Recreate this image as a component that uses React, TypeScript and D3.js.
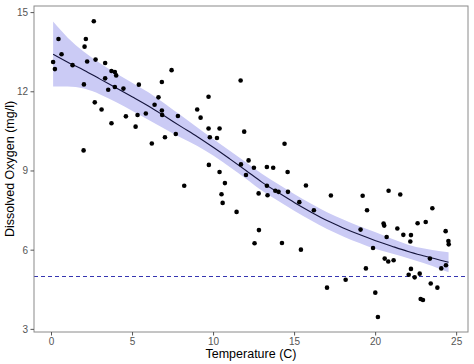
import React from "react"
import { scaleLinear, line, area, curveMonotoneX } from "d3"

// observations: temperature (C) and dissolved oxygen (mg/l)
const temperature = [
  0.1, 0.21, 0.43, 0.62, 1.3, 1.98, 2.0, 2.04, 2.12, 2.2, 2.61, 2.67, 2.72, 3.09, 3.31, 3.31,
  3.5, 3.7, 3.7, 3.91, 3.91, 3.99, 4.44, 4.59, 5.19, 5.31, 5.39, 5.82, 6.19, 6.36, 6.6, 6.81,
  6.81, 6.83, 7.0, 7.41, 7.67, 7.8, 8.19, 8.99, 9.2, 9.69, 9.69, 9.71, 9.77, 10.21, 10.37,
  10.37, 10.49, 10.56, 10.7, 11.42, 11.67, 11.69, 11.89, 12.0, 12.16, 12.49, 12.53, 12.78,
  12.8, 13.29, 13.29, 13.33, 13.68, 13.81, 14.01, 14.22, 14.38, 14.57, 14.59, 15.29, 15.39,
  15.7, 16.19, 17.0, 17.24, 18.15, 19.07, 19.2, 19.4, 19.47, 19.84, 19.98, 20.14, 20.49,
  20.53, 20.56, 20.68, 20.78, 20.8, 21.11, 21.34, 21.52, 21.71, 22.04, 22.14, 22.18, 22.18,
  22.41, 22.59, 22.72, 22.78, 22.92, 23.09, 23.35, 23.4, 23.5, 23.81, 24.05, 24.32, 24.34,
  24.49, 24.51,
]
const oxygen = [
  13.13, 12.86, 14.0, 13.42, 13.01, 9.78, 12.28, 13.71, 14.0, 13.15, 14.67, 11.6, 13.22,
  11.33, 13.09, 12.51, 12.08, 12.79, 10.81, 12.75, 12.18, 12.62, 12.12, 11.07, 10.68, 11.12,
  12.27, 11.18, 10.04, 11.51, 11.79, 12.37, 11.29, 11.12, 10.28, 12.82, 10.4, 11.08, 8.44,
  11.33, 11.02, 11.81, 10.61, 9.23, 10.28, 10.25, 10.61, 8.96, 8.12, 7.79, 8.54, 7.45, 12.43,
  9.25, 10.49, 8.85, 9.4, 9.12, 6.26, 8.15, 6.76, 9.15, 8.44, 8.08, 9.12, 8.25, 8.21, 6.27,
  10.03, 8.96, 8.21, 7.82, 6.02, 8.45, 7.51, 4.58, 8.07, 4.88, 6.78, 8.06, 5.31, 7.51, 6.08,
  4.39, 3.47, 7.01, 6.93, 5.68, 6.5, 5.57, 8.25, 5.62, 6.82, 8.11, 6.58, 5.07, 6.33, 6.57,
  5.29, 4.97, 7.02, 5.11, 4.15, 4.11, 7.07, 5.68, 4.74, 7.59, 4.58, 5.31, 6.72, 5.43, 6.35,
  6.22,
]

// smoothed fit with confidence band
const fitT = [0.1, 1, 2, 3, 4, 5, 6, 7, 8, 9, 10, 11, 12, 13, 14, 15, 16, 17, 18, 19, 20, 21, 22, 23, 24, 24.5]
const fitDO = [
  13.42, 13.12, 12.82, 12.48, 12.14, 11.8, 11.45, 11.07, 10.68, 10.3, 9.89, 9.46, 9.02, 8.57,
  8.18, 7.8, 7.45, 7.12, 6.84, 6.59, 6.36, 6.15, 5.95, 5.78, 5.62, 5.54,
]
const fitLow = [
  12.2, 12.2, 12.12, 11.9, 11.6, 11.27, 10.93, 10.59, 10.26, 9.95, 9.58, 9.15, 8.71, 8.25,
  7.86, 7.48, 7.13, 6.8, 6.52, 6.27, 6.04, 5.87, 5.69, 5.5, 5.28, 5.16,
]
const fitHigh = [
  14.66, 14.05, 13.52, 13.08, 12.69, 12.33, 11.97, 11.55, 11.1, 10.65, 10.2, 9.77, 9.33, 8.89,
  8.5, 8.12, 7.77, 7.44, 7.16, 6.91, 6.68, 6.43, 6.21, 6.06, 5.96, 5.92,
]

const xTicks = [0, 5, 10, 15, 20, 25]
const yTicks = [3, 6, 9, 12, 15]
const threshold = 5

const App = () => {
  const width = 474
  const height = 364
  const margin = { top: 6, right: 6, bottom: 32, left: 34 }
  const innerWidth = width - margin.left - margin.right
  const innerHeight = height - margin.top - margin.bottom

  const xScale = scaleLinear().domain([-1.08, 25.7]).range([0, innerWidth])
  const yScale = scaleLinear().domain([2.9, 15.25]).range([innerHeight, 0])

  const fitLine = line<number>()
    .x((d, i) => xScale(fitT[i]))
    .y((d) => yScale(d))
    .curve(curveMonotoneX)

  const band = area<number>()
    .x((d, i) => xScale(fitT[i]))
    .y0((d, i) => yScale(fitLow[i]))
    .y1((d, i) => yScale(fitHigh[i]))
    .curve(curveMonotoneX)

  const font = "'Liberation Sans', Arial, sans-serif"

  return (
    <svg
      width={width}
      height={height}
      style={{ position: "absolute", left: 0, top: 0, background: "white" }}
      fontFamily={font}
    >
      <g transform={`translate(${margin.left}, ${margin.top})`}>
        <path d={band(fitT) ?? ""} fill="#cbcbf5" />
        <path d={fitLine(fitDO) ?? ""} fill="none" stroke="#14143c" strokeWidth={1.1} />
        <line
          x1={0}
          x2={innerWidth}
          y1={yScale(threshold)}
          y2={yScale(threshold)}
          stroke="#3535b0"
          strokeWidth={1.1}
          strokeDasharray="4,3"
        />
        {temperature.map((t, i) => (
          <circle key={i} cx={xScale(t)} cy={yScale(oxygen[i])} r={2.3} fill="black" />
        ))}
        <rect
          x={0}
          y={0}
          width={innerWidth}
          height={innerHeight}
          fill="none"
          stroke="#8a8a8a"
          strokeWidth={1}
        />
        {xTicks.map((tickValue) => (
          <g key={tickValue} transform={`translate(${xScale(tickValue)}, ${innerHeight})`}>
            <line y2={3.5} stroke="#555" />
            <text y={13} textAnchor="middle" fontSize={10} fill="#555">
              {tickValue}
            </text>
          </g>
        ))}
        {yTicks.map((tickValue) => (
          <g key={tickValue} transform={`translate(0, ${yScale(tickValue)})`}>
            <line x2={-3.5} stroke="#555" />
            <text x={-6} dy="0.35em" textAnchor="end" fontSize={10} fill="#555">
              {tickValue}
            </text>
          </g>
        ))}
        <text
          x={innerWidth / 2}
          y={innerHeight + 25.5}
          textAnchor="middle"
          fontSize={12.5}
          fill="black"
        >
          Temperature (C)
        </text>
        <text
          transform={`translate(${-20}, ${innerHeight / 2}) rotate(-90)`}
          textAnchor="middle"
          fontSize={12.5}
          fill="black"
        >
          Dissolved Oxygen (mg/l)
        </text>
      </g>
    </svg>
  )
}

export default App
